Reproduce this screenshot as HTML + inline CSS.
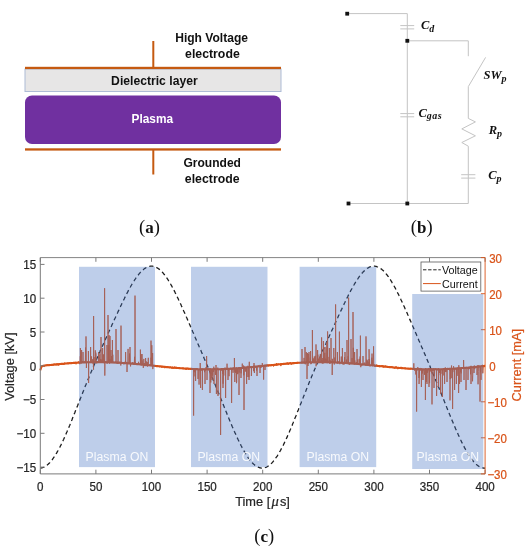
<!DOCTYPE html>
<html lang="en"><head><meta charset="utf-8"><title>DBD plasma figure</title>
<style>html,body{margin:0;padding:0;background:#fff}body{width:532px;height:550px;overflow:hidden}</style></head>
<body>
<svg width="532" height="550" viewBox="0 0 532 550" style="display:block">
<rect width="532" height="550" fill="#fff"/>
<g id="panel-a" font-family="'Liberation Sans', sans-serif" font-weight="bold">
<rect x="25" y="69" width="256" height="22.5" fill="#e7e6e6" stroke="#aebcd6" stroke-width="1"/>
<rect x="25" y="66.8" width="256" height="2.3" fill="#c55a11"/>
<rect x="25" y="95.5" width="256" height="48.5" rx="7" ry="7" fill="#7030a0"/>
<rect x="25" y="148.3" width="256" height="2.3" fill="#c55a11"/>
<rect x="152.3" y="41" width="2" height="27" fill="#c55a11"/>
<rect x="152.3" y="149" width="2" height="25.5" fill="#c55a11"/>
<text x="211.6" y="41.5" font-size="12.6" fill="#111" text-anchor="middle" textLength="72.8" lengthAdjust="spacingAndGlyphs">High Voltage</text>
<text x="212.4" y="58.1" font-size="12.6" fill="#111" text-anchor="middle" textLength="54.7" lengthAdjust="spacingAndGlyphs">electrode</text>
<text x="154.4" y="85.2" font-size="12.6" fill="#111" text-anchor="middle" textLength="86.6" lengthAdjust="spacingAndGlyphs">Dielectric layer</text>
<text x="152.3" y="122.7" font-size="12.6" fill="#fff" text-anchor="middle" textLength="41.5" lengthAdjust="spacingAndGlyphs">Plasma</text>
<text x="212.2" y="166.5" font-size="12.6" fill="#111" text-anchor="middle" textLength="57.5" lengthAdjust="spacingAndGlyphs">Grounded</text>
<text x="212.2" y="183.4" font-size="12.6" fill="#111" text-anchor="middle" textLength="54.7" lengthAdjust="spacingAndGlyphs">electrode</text>
</g>
<g font-family="'Liberation Serif', serif" font-size="17" fill="#111" text-anchor="middle">
<text x="149.4" y="232.7"><tspan font-size="18.5">(</tspan><tspan font-weight="bold">a</tspan><tspan font-size="18.5">)</tspan></text>
<text x="421.7" y="232.7"><tspan font-size="18.5">(</tspan><tspan font-weight="bold">b</tspan><tspan font-size="18.5">)</tspan></text>
<text x="264.2" y="542.1"><tspan font-size="18.5">(</tspan><tspan font-weight="bold">c</tspan><tspan font-size="18.5">)</tspan></text>
</g>
<g id="panel-b" fill="none" stroke="#c4c4c4" stroke-width="1">
<path d="M347.5 13.6H407.3V203.5 M348.5 203.5H468.3V146.2L461.8 142.5L475.4 135.8L461.8 128.9L475.4 121.9L468.3 118.4V86.6L485.6 57.4 M468.3 56.2V40.8H407.3"/>
<path d="M400.3 25.6H414.2 M400.3 28.9H414.2 M400.3 113.6H414.2 M400.3 116.8H414.2 M461.2 174.7H475.4 M461.2 178.1H475.4"/>
</g>
<rect x="345.3" y="11.8" width="3.8" height="3.8" fill="#111"/>
<rect x="405.4" y="38.9" width="3.8" height="3.8" fill="#111"/>
<rect x="346.6" y="201.6" width="3.8" height="3.8" fill="#111"/>
<rect x="405.4" y="201.6" width="3.8" height="3.8" fill="#111"/>
<g font-family="'Liberation Serif', serif" font-style="italic" font-weight="bold" font-size="12.5" fill="#111">
<text x="421" y="29.3">C<tspan font-size="10" dy="2.6" dx="-0.2" letter-spacing="0.5">d</tspan></text>
<text x="418.5" y="116.5">C<tspan font-size="10" dy="2.6" dx="-0.2" letter-spacing="0.5">gas</tspan></text>
<text x="483.6" y="78.9">SW<tspan font-size="10" dy="2.6" dx="-0.2" letter-spacing="0.5">p</tspan></text>
<text x="488.8" y="134.2">R<tspan font-size="10" dy="2.6" dx="-0.2" letter-spacing="0.5">p</tspan></text>
<text x="488.3" y="179">C<tspan font-size="10" dy="2.6" dx="-0.2" letter-spacing="0.5">p</tspan></text>
</g>
<g id="panel-c">
<path d="M40.3 468.1 L40.9 468.0 L41.4 467.9 L42.0 467.8 L42.5 467.7 L43.1 467.5 L43.6 467.3 L44.2 467.0 L44.7 466.7 L45.3 466.4 L45.9 466.0 L46.4 465.7 L47.0 465.2 L47.5 464.8 L48.1 464.3 L48.6 463.8 L49.2 463.2 L49.8 462.6 L50.3 462.0 L50.9 461.4 L51.4 460.7 L52.0 460.0 L52.5 459.3 L53.1 458.5 L53.6 457.7 L54.2 456.9 L54.8 456.1 L55.3 455.2 L55.9 454.3 L56.4 453.4 L57.0 452.4 L57.5 451.4 L58.1 450.5 L58.6 449.4 L59.2 448.4 L59.8 447.3 L60.3 446.2 L60.9 445.1 L61.4 444.0 L62.0 442.9 L62.5 441.7 L63.1 440.5 L63.7 439.3 L64.2 438.1 L64.8 436.9 L65.3 435.6 L65.9 434.3 L66.4 433.1 L67.0 431.8 L67.5 430.5 L68.1 429.2 L68.7 427.8 L69.2 426.5 L69.8 425.2 L70.3 423.8 L70.9 422.4 L71.4 421.1 L72.0 419.7 L72.5 418.3 L73.1 416.9 L73.7 415.5 L74.2 414.1 L74.8 412.7 L75.3 411.3 L75.9 409.9 L76.4 408.5 L77.0 407.1 L77.6 405.7 L78.1 404.3 L78.7 402.9 L79.2 401.5 L79.8 400.1 L80.3 398.7 L80.9 397.3 L81.4 395.9 L82.0 394.5 L82.6 393.1 L83.1 391.7 L83.7 390.3 L84.2 388.9 L84.8 387.5 L85.3 386.1 L85.9 384.7 L86.4 383.4 L87.0 382.0 L87.6 380.6 L88.1 379.3 L88.7 377.9 L89.2 376.6 L89.8 375.2 L90.3 373.9 L90.9 372.6 L91.5 371.2 L92.0 369.9 L92.6 368.6 L93.1 367.3 L93.7 366.0 L94.2 364.7 L94.8 363.4 L95.3 362.1 L95.9 360.8 L96.5 359.5 L97.0 358.2 L97.6 357.0 L98.1 355.7 L98.7 354.4 L99.2 353.2 L99.8 351.9 L100.3 350.6 L100.9 349.4 L101.5 348.1 L102.0 346.9 L102.6 345.7 L103.1 344.4 L103.7 343.2 L104.2 341.9 L104.8 340.7 L105.4 339.5 L105.9 338.3 L106.5 337.0 L107.0 335.8 L107.6 334.6 L108.1 333.3 L108.7 332.1 L109.2 330.9 L109.8 329.7 L110.4 328.5 L110.9 327.2 L111.5 326.0 L112.0 324.8 L112.6 323.6 L113.1 322.4 L113.7 321.2 L114.2 320.0 L114.8 318.8 L115.4 317.6 L115.9 316.3 L116.5 315.1 L117.0 313.9 L117.6 312.8 L118.1 311.6 L118.7 310.4 L119.3 309.2 L119.8 308.0 L120.4 306.8 L120.9 305.6 L121.5 304.5 L122.0 303.3 L122.6 302.2 L123.1 301.0 L123.7 299.9 L124.3 298.7 L124.8 297.6 L125.4 296.5 L125.9 295.4 L126.5 294.3 L127.0 293.2 L127.6 292.1 L128.1 291.1 L128.7 290.0 L129.3 289.0 L129.8 288.0 L130.4 287.0 L130.9 286.0 L131.5 285.0 L132.0 284.1 L132.6 283.2 L133.2 282.2 L133.7 281.4 L134.3 280.5 L134.8 279.6 L135.4 278.8 L135.9 278.0 L136.5 277.2 L137.0 276.4 L137.6 275.7 L138.2 275.0 L138.7 274.3 L139.3 273.6 L139.8 273.0 L140.4 272.4 L140.9 271.8 L141.5 271.2 L142.0 270.7 L142.6 270.2 L143.2 269.7 L143.7 269.2 L144.3 268.8 L144.8 268.4 L145.4 268.1 L145.9 267.7 L146.5 267.4 L147.1 267.2 L147.6 266.9 L148.2 266.7 L148.7 266.6 L149.3 266.4 L149.8 266.3 L150.4 266.2 L150.9 266.2 L151.5 266.2 L152.1 266.2 L152.6 266.2 L153.2 266.3 L153.7 266.4 L154.3 266.6 L154.8 266.8 L155.4 267.0 L155.9 267.2 L156.5 267.5 L157.1 267.8 L157.6 268.1 L158.2 268.5 L158.7 268.9 L159.3 269.3 L159.8 269.8 L160.4 270.3 L161.0 270.8 L161.5 271.3 L162.1 271.9 L162.6 272.5 L163.2 273.2 L163.7 273.8 L164.3 274.5 L164.8 275.2 L165.4 276.0 L166.0 276.7 L166.5 277.5 L167.1 278.3 L167.6 279.2 L168.2 280.0 L168.7 280.9 L169.3 281.8 L169.8 282.8 L170.4 283.7 L171.0 284.7 L171.5 285.7 L172.1 286.7 L172.6 287.7 L173.2 288.7 L173.7 289.8 L174.3 290.9 L174.9 292.0 L175.4 293.1 L176.0 294.2 L176.5 295.3 L177.1 296.5 L177.6 297.6 L178.2 298.8 L178.7 300.0 L179.3 301.2 L179.9 302.4 L180.4 303.6 L181.0 304.8 L181.5 306.0 L182.1 307.2 L182.6 308.5 L183.2 309.7 L183.7 311.0 L184.3 312.2 L184.9 313.5 L185.4 314.8 L186.0 316.0 L186.5 317.3 L187.1 318.6 L187.6 319.9 L188.2 321.1 L188.8 322.4 L189.3 323.7 L189.9 325.0 L190.4 326.3 L191.0 327.6 L191.5 328.9 L192.1 330.1 L192.6 331.4 L193.2 332.7 L193.8 334.0 L194.3 335.3 L194.9 336.6 L195.4 337.9 L196.0 339.2 L196.5 340.5 L197.1 341.8 L197.6 343.1 L198.2 344.4 L198.8 345.7 L199.3 347.0 L199.9 348.3 L200.4 349.5 L201.0 350.8 L201.5 352.1 L202.1 353.4 L202.7 354.7 L203.2 356.0 L203.8 357.4 L204.3 358.7 L204.9 360.0 L205.4 361.3 L206.0 362.6 L206.5 363.9 L207.1 365.2 L207.7 366.5 L208.2 367.9 L208.8 369.2 L209.3 370.5 L209.9 371.8 L210.4 373.2 L211.0 374.5 L211.5 375.9 L212.1 377.2 L212.7 378.5 L213.2 379.9 L213.8 381.2 L214.3 382.6 L214.9 384.0 L215.4 385.3 L216.0 386.7 L216.6 388.0 L217.1 389.4 L217.7 390.8 L218.2 392.2 L218.8 393.5 L219.3 394.9 L219.9 396.3 L220.4 397.7 L221.0 399.0 L221.6 400.4 L222.1 401.8 L222.7 403.2 L223.2 404.6 L223.8 405.9 L224.3 407.3 L224.9 408.7 L225.4 410.1 L226.0 411.4 L226.6 412.8 L227.1 414.2 L227.7 415.5 L228.2 416.9 L228.8 418.2 L229.3 419.6 L229.9 420.9 L230.5 422.3 L231.0 423.6 L231.6 424.9 L232.1 426.2 L232.7 427.5 L233.2 428.8 L233.8 430.1 L234.3 431.3 L234.9 432.6 L235.5 433.8 L236.0 435.0 L236.6 436.3 L237.1 437.5 L237.7 438.7 L238.2 439.8 L238.8 441.0 L239.3 442.1 L239.9 443.3 L240.5 444.4 L241.0 445.5 L241.6 446.5 L242.1 447.6 L242.7 448.6 L243.2 449.7 L243.8 450.6 L244.4 451.6 L244.9 452.6 L245.5 453.5 L246.0 454.4 L246.6 455.3 L247.1 456.1 L247.7 457.0 L248.2 457.8 L248.8 458.5 L249.4 459.3 L249.9 460.0 L250.5 460.7 L251.0 461.4 L251.6 462.0 L252.1 462.6 L252.7 463.2 L253.2 463.7 L253.8 464.3 L254.4 464.7 L254.9 465.2 L255.5 465.6 L256.0 466.0 L256.6 466.4 L257.1 466.7 L257.7 467.0 L258.3 467.2 L258.8 467.5 L259.4 467.6 L259.9 467.8 L260.5 467.9 L261.0 468.0 L261.6 468.1 L262.1 468.1 L262.7 468.1 L263.3 468.0 L263.8 467.9 L264.4 467.8 L264.9 467.7 L265.5 467.5 L266.0 467.3 L266.6 467.0 L267.1 466.7 L267.7 466.4 L268.3 466.0 L268.8 465.7 L269.4 465.2 L269.9 464.8 L270.5 464.3 L271.0 463.8 L271.6 463.2 L272.2 462.6 L272.7 462.0 L273.3 461.4 L273.8 460.7 L274.4 460.0 L274.9 459.3 L275.5 458.5 L276.0 457.7 L276.6 456.9 L277.2 456.1 L277.7 455.2 L278.3 454.3 L278.8 453.4 L279.4 452.4 L279.9 451.4 L280.5 450.5 L281.0 449.4 L281.6 448.4 L282.2 447.3 L282.7 446.2 L283.3 445.1 L283.8 444.0 L284.4 442.9 L284.9 441.7 L285.5 440.5 L286.1 439.3 L286.6 438.1 L287.2 436.9 L287.7 435.6 L288.3 434.3 L288.8 433.1 L289.4 431.8 L289.9 430.5 L290.5 429.2 L291.1 427.8 L291.6 426.5 L292.2 425.2 L292.7 423.8 L293.3 422.4 L293.8 421.1 L294.4 419.7 L294.9 418.3 L295.5 416.9 L296.1 415.5 L296.6 414.1 L297.2 412.7 L297.7 411.3 L298.3 409.9 L298.8 408.5 L299.4 407.1 L300.0 405.7 L300.5 404.3 L301.1 402.9 L301.6 401.5 L302.2 400.1 L302.7 398.7 L303.3 397.3 L303.8 395.9 L304.4 394.5 L305.0 393.1 L305.5 391.7 L306.1 390.3 L306.6 388.9 L307.2 387.5 L307.7 386.1 L308.3 384.7 L308.8 383.4 L309.4 382.0 L310.0 380.6 L310.5 379.3 L311.1 377.9 L311.6 376.6 L312.2 375.2 L312.7 373.9 L313.3 372.6 L313.9 371.2 L314.4 369.9 L315.0 368.6 L315.5 367.3 L316.1 366.0 L316.6 364.7 L317.2 363.4 L317.7 362.1 L318.3 360.8 L318.9 359.5 L319.4 358.2 L320.0 357.0 L320.5 355.7 L321.1 354.4 L321.6 353.2 L322.2 351.9 L322.7 350.6 L323.3 349.4 L323.9 348.1 L324.4 346.9 L325.0 345.7 L325.5 344.4 L326.1 343.2 L326.6 341.9 L327.2 340.7 L327.8 339.5 L328.3 338.3 L328.9 337.0 L329.4 335.8 L330.0 334.6 L330.5 333.3 L331.1 332.1 L331.6 330.9 L332.2 329.7 L332.8 328.5 L333.3 327.2 L333.9 326.0 L334.4 324.8 L335.0 323.6 L335.5 322.4 L336.1 321.2 L336.6 320.0 L337.2 318.8 L337.8 317.6 L338.3 316.3 L338.9 315.1 L339.4 313.9 L340.0 312.8 L340.5 311.6 L341.1 310.4 L341.7 309.2 L342.2 308.0 L342.8 306.8 L343.3 305.6 L343.9 304.5 L344.4 303.3 L345.0 302.2 L345.5 301.0 L346.1 299.9 L346.7 298.7 L347.2 297.6 L347.8 296.5 L348.3 295.4 L348.9 294.3 L349.4 293.2 L350.0 292.1 L350.5 291.1 L351.1 290.0 L351.7 289.0 L352.2 288.0 L352.8 287.0 L353.3 286.0 L353.9 285.0 L354.4 284.1 L355.0 283.2 L355.6 282.2 L356.1 281.4 L356.7 280.5 L357.2 279.6 L357.8 278.8 L358.3 278.0 L358.9 277.2 L359.4 276.4 L360.0 275.7 L360.6 275.0 L361.1 274.3 L361.7 273.6 L362.2 273.0 L362.8 272.4 L363.3 271.8 L363.9 271.2 L364.4 270.7 L365.0 270.2 L365.6 269.7 L366.1 269.2 L366.7 268.8 L367.2 268.4 L367.8 268.1 L368.3 267.7 L368.9 267.4 L369.5 267.2 L370.0 266.9 L370.6 266.7 L371.1 266.6 L371.7 266.4 L372.2 266.3 L372.8 266.2 L373.3 266.2 L373.9 266.2 L374.5 266.2 L375.0 266.2 L375.6 266.3 L376.1 266.4 L376.7 266.6 L377.2 266.8 L377.8 267.0 L378.3 267.2 L378.9 267.5 L379.5 267.8 L380.0 268.1 L380.6 268.5 L381.1 268.9 L381.7 269.3 L382.2 269.8 L382.8 270.3 L383.4 270.8 L383.9 271.3 L384.5 271.9 L385.0 272.5 L385.6 273.2 L386.1 273.8 L386.7 274.5 L387.2 275.2 L387.8 276.0 L388.4 276.7 L388.9 277.5 L389.5 278.3 L390.0 279.2 L390.6 280.0 L391.1 280.9 L391.7 281.8 L392.2 282.8 L392.8 283.7 L393.4 284.7 L393.9 285.7 L394.5 286.7 L395.0 287.7 L395.6 288.7 L396.1 289.8 L396.7 290.9 L397.3 292.0 L397.8 293.1 L398.4 294.2 L398.9 295.3 L399.5 296.5 L400.0 297.6 L400.6 298.8 L401.1 300.0 L401.7 301.2 L402.3 302.4 L402.8 303.6 L403.4 304.8 L403.9 306.0 L404.5 307.2 L405.0 308.5 L405.6 309.7 L406.1 311.0 L406.7 312.2 L407.3 313.5 L407.8 314.8 L408.4 316.0 L408.9 317.3 L409.5 318.6 L410.0 319.9 L410.6 321.1 L411.2 322.4 L411.7 323.7 L412.3 325.0 L412.8 326.3 L413.4 327.6 L413.9 328.9 L414.5 330.1 L415.0 331.4 L415.6 332.7 L416.2 334.0 L416.7 335.3 L417.3 336.6 L417.8 337.9 L418.4 339.2 L418.9 340.5 L419.5 341.8 L420.0 343.1 L420.6 344.4 L421.2 345.7 L421.7 347.0 L422.3 348.3 L422.8 349.5 L423.4 350.8 L423.9 352.1 L424.5 353.4 L425.1 354.7 L425.6 356.0 L426.2 357.4 L426.7 358.7 L427.3 360.0 L427.8 361.3 L428.4 362.6 L428.9 363.9 L429.5 365.2 L430.1 366.5 L430.6 367.9 L431.2 369.2 L431.7 370.5 L432.3 371.8 L432.8 373.2 L433.4 374.5 L433.9 375.9 L434.5 377.2 L435.1 378.5 L435.6 379.9 L436.2 381.2 L436.7 382.6 L437.3 384.0 L437.8 385.3 L438.4 386.7 L439.0 388.0 L439.5 389.4 L440.1 390.8 L440.6 392.2 L441.2 393.5 L441.7 394.9 L442.3 396.3 L442.8 397.7 L443.4 399.0 L444.0 400.4 L444.5 401.8 L445.1 403.2 L445.6 404.6 L446.2 405.9 L446.7 407.3 L447.3 408.7 L447.8 410.1 L448.4 411.4 L449.0 412.8 L449.5 414.2 L450.1 415.5 L450.6 416.9 L451.2 418.2 L451.7 419.6 L452.3 420.9 L452.9 422.3 L453.4 423.6 L454.0 424.9 L454.5 426.2 L455.1 427.5 L455.6 428.8 L456.2 430.1 L456.7 431.3 L457.3 432.6 L457.9 433.8 L458.4 435.0 L459.0 436.3 L459.5 437.5 L460.1 438.7 L460.6 439.8 L461.2 441.0 L461.7 442.1 L462.3 443.3 L462.9 444.4 L463.4 445.5 L464.0 446.5 L464.5 447.6 L465.1 448.6 L465.6 449.7 L466.2 450.6 L466.8 451.6 L467.3 452.6 L467.9 453.5 L468.4 454.4 L469.0 455.3 L469.5 456.1 L470.1 457.0 L470.6 457.8 L471.2 458.5 L471.8 459.3 L472.3 460.0 L472.9 460.7 L473.4 461.4 L474.0 462.0 L474.5 462.6 L475.1 463.2 L475.6 463.7 L476.2 464.3 L476.8 464.7 L477.3 465.2 L477.9 465.6 L478.4 466.0 L479.0 466.4 L479.5 466.7 L480.1 467.0 L480.7 467.2 L481.2 467.5 L481.8 467.6 L482.3 467.8 L482.9 467.9 L483.4 468.0 L484.0 468.1 L484.5 468.1 L485.1 468.1" fill="none" stroke="#1c1c1c" stroke-width="1.3" stroke-dasharray="4.2 3.1"/>
<path d="M40.3 370.3 L41.4 366.9 L42.5 366.0 L43.6 365.7 L44.7 365.5 L45.9 365.4 L47.0 365.3 L48.1 365.2 L49.2 365.1 L50.3 365.0 L51.4 364.9 L52.5 364.7 L53.6 364.6 L54.8 364.5 L55.9 364.4 L57.0 364.3 L58.1 364.2 L59.2 364.1 L60.3 364.0 L61.4 363.9 L62.5 363.8 L63.7 363.7 L64.8 363.6 L65.9 363.5 L67.0 363.5 L68.1 363.4 L69.2 363.3 L70.3 363.2 L71.4 363.1 L72.5 363.0 L73.7 363.0 L74.8 362.9 L75.9 362.8 L77.0 362.8 L78.1 362.7 L79.2 362.6 L80.3 362.6 L81.4 362.5 L82.6 362.5 L83.7 362.4 L84.8 362.4 L85.9 362.4 L87.0 362.3 L88.1 362.3 L89.2 362.3 L90.3 362.2 L91.5 362.2 L92.6 362.2 L93.7 362.2 L94.8 362.2 L95.9 362.2 L97.0 362.1 L98.1 362.1 L99.2 362.1 L100.3 362.2 L101.5 362.2 L102.6 362.2 L103.7 362.2 L104.8 362.2 L105.9 362.2 L107.0 362.3 L108.1 362.3 L109.2 362.3 L110.4 362.4 L111.5 362.4 L112.6 362.4 L113.7 362.5 L114.8 362.5 L115.9 362.6 L117.0 362.6 L118.1 362.7 L119.3 362.8 L120.4 362.8 L121.5 362.9 L122.6 363.0 L123.7 363.0 L124.8 363.1 L125.9 363.2 L127.0 363.3 L128.1 363.4 L129.3 363.5 L130.4 363.5 L131.5 363.6 L132.6 363.7 L133.7 363.8 L134.8 363.9 L135.9 364.0 L137.0 364.1 L138.2 364.2 L139.3 364.3 L140.4 364.4 L141.5 364.5 L142.6 364.6 L143.7 364.7 L144.8 364.9 L145.9 365.0 L147.1 365.1 L148.2 365.2 L149.3 365.3 L150.4 365.4 L151.5 365.5 L152.6 365.6 L153.7 365.8 L154.8 365.9 L155.9 366.0 L157.1 366.1 L158.2 366.2 L159.3 366.3 L160.4 366.4 L161.5 366.5 L162.6 366.6 L163.7 366.8 L164.8 366.9 L166.0 367.0 L167.1 367.1 L168.2 367.2 L169.3 367.3 L170.4 367.4 L171.5 367.5 L172.6 367.6 L173.7 367.7 L174.9 367.8 L176.0 367.9 L177.1 368.0 L178.2 368.0 L179.3 368.1 L180.4 368.2 L181.5 368.3 L182.6 368.4 L183.7 368.5 L184.9 368.5 L186.0 368.6 L187.1 368.7 L188.2 368.7 L189.3 368.8 L190.4 368.9 L191.5 368.9 L192.6 369.0 L193.8 369.0 L194.9 369.1 L196.0 369.1 L197.1 369.1 L198.2 369.2 L199.3 369.2 L200.4 369.2 L201.5 369.3 L202.7 369.3 L203.8 369.3 L204.9 369.3 L206.0 369.3 L207.1 369.3 L208.2 369.4 L209.3 369.4 L210.4 369.4 L211.5 369.3 L212.7 369.3 L213.8 369.3 L214.9 369.3 L216.0 369.3 L217.1 369.3 L218.2 369.2 L219.3 369.2 L220.4 369.2 L221.6 369.1 L222.7 369.1 L223.8 369.1 L224.9 369.0 L226.0 369.0 L227.1 368.9 L228.2 368.9 L229.3 368.8 L230.5 368.7 L231.6 368.7 L232.7 368.6 L233.8 368.5 L234.9 368.5 L236.0 368.4 L237.1 368.3 L238.2 368.2 L239.3 368.1 L240.5 368.0 L241.6 368.0 L242.7 367.9 L243.8 367.8 L244.9 367.7 L246.0 367.6 L247.1 367.5 L248.2 367.4 L249.4 367.3 L250.5 367.2 L251.6 367.1 L252.7 367.0 L253.8 366.9 L254.9 366.8 L256.0 366.6 L257.1 366.5 L258.3 366.4 L259.4 366.3 L260.5 366.2 L261.6 366.1 L262.7 366.0 L263.8 365.9 L264.9 365.8 L266.0 365.6 L267.1 365.5 L268.3 365.4 L269.4 365.3 L270.5 365.2 L271.6 365.1 L272.7 365.0 L273.8 364.9 L274.9 364.7 L276.0 364.6 L277.2 364.5 L278.3 364.4 L279.4 364.3 L280.5 364.2 L281.6 364.1 L282.7 364.0 L283.8 363.9 L284.9 363.8 L286.1 363.7 L287.2 363.6 L288.3 363.5 L289.4 363.5 L290.5 363.4 L291.6 363.3 L292.7 363.2 L293.8 363.1 L294.9 363.0 L296.1 363.0 L297.2 362.9 L298.3 362.8 L299.4 362.8 L300.5 362.7 L301.6 362.6 L302.7 362.6 L303.8 362.5 L305.0 362.5 L306.1 362.4 L307.2 362.4 L308.3 362.4 L309.4 362.3 L310.5 362.3 L311.6 362.3 L312.7 362.2 L313.9 362.2 L315.0 362.2 L316.1 362.2 L317.2 362.2 L318.3 362.2 L319.4 362.1 L320.5 362.1 L321.6 362.1 L322.7 362.2 L323.9 362.2 L325.0 362.2 L326.1 362.2 L327.2 362.2 L328.3 362.2 L329.4 362.3 L330.5 362.3 L331.6 362.3 L332.8 362.4 L333.9 362.4 L335.0 362.4 L336.1 362.5 L337.2 362.5 L338.3 362.6 L339.4 362.6 L340.5 362.7 L341.7 362.8 L342.8 362.8 L343.9 362.9 L345.0 363.0 L346.1 363.0 L347.2 363.1 L348.3 363.2 L349.4 363.3 L350.5 363.4 L351.7 363.5 L352.8 363.5 L353.9 363.6 L355.0 363.7 L356.1 363.8 L357.2 363.9 L358.3 364.0 L359.4 364.1 L360.6 364.2 L361.7 364.3 L362.8 364.4 L363.9 364.5 L365.0 364.6 L366.1 364.7 L367.2 364.9 L368.3 365.0 L369.5 365.1 L370.6 365.2 L371.7 365.3 L372.8 365.4 L373.9 365.5 L375.0 365.6 L376.1 365.8 L377.2 365.9 L378.3 366.0 L379.5 366.1 L380.6 366.2 L381.7 366.3 L382.8 366.4 L383.9 366.5 L385.0 366.6 L386.1 366.8 L387.2 366.9 L388.4 367.0 L389.5 367.1 L390.6 367.2 L391.7 367.3 L392.8 367.4 L393.9 367.5 L395.0 367.6 L396.1 367.7 L397.3 367.8 L398.4 367.9 L399.5 368.0 L400.6 368.0 L401.7 368.1 L402.8 368.2 L403.9 368.3 L405.0 368.4 L406.1 368.5 L407.3 368.5 L408.4 368.6 L409.5 368.7 L410.6 368.7 L411.7 368.8 L412.8 368.9 L413.9 368.9 L415.0 369.0 L416.2 369.0 L417.3 369.1 L418.4 369.1 L419.5 369.1 L420.6 369.2 L421.7 369.2 L422.8 369.2 L423.9 369.3 L425.1 369.3 L426.2 369.3 L427.3 369.3 L428.4 369.3 L429.5 369.3 L430.6 369.4 L431.7 369.4 L432.8 369.4 L433.9 369.3 L435.1 369.3 L436.2 369.3 L437.3 369.3 L438.4 369.3 L439.5 369.3 L440.6 369.2 L441.7 369.2 L442.8 369.2 L444.0 369.1 L445.1 369.1 L446.2 369.1 L447.3 369.0 L448.4 369.0 L449.5 368.9 L450.6 368.9 L451.7 368.8 L452.9 368.7 L454.0 368.7 L455.1 368.6 L456.2 368.5 L457.3 368.5 L458.4 368.4 L459.5 368.3 L460.6 368.2 L461.7 368.1 L462.9 368.0 L464.0 368.0 L465.1 367.9 L466.2 367.8 L467.3 367.7 L468.4 367.6 L469.5 367.5 L470.6 367.4 L471.8 367.3 L472.9 367.2 L474.0 367.1 L475.1 367.0 L476.2 366.9 L477.3 366.8 L478.4 366.6 L479.5 366.5 L480.7 366.4 L481.8 366.3 L482.9 366.2 L484.0 366.1 L485.1 366.0" fill="none" stroke="#D95319" stroke-width="2.1" stroke-linejoin="round"/>
<path d="M40.30 370.4 L40.55 368.8 L40.80 368.3 L41.05 367.7 L41.30 367.6 L41.55 366.8 L41.80 365.8 L42.05 366.0 L42.30 365.5 L42.55 365.8 L42.80 365.7 L43.05 365.7 L43.30 366.7 L43.55 365.2 L43.80 365.4 L44.05 365.3 L44.30 366.6 L44.55 366.6 L44.80 366.0 L45.05 365.8 L45.30 365.3 L45.55 365.5 L45.80 365.1 L46.05 365.8 L46.30 365.2 L46.55 365.1 L46.80 365.7 L47.05 364.3 L47.30 364.9 L47.55 364.5 L47.80 365.6 L48.05 365.6 L48.30 365.4 L48.55 365.2 L48.80 364.7 L49.05 364.9 L49.30 365.3 L49.55 365.6 L49.80 365.3 L50.05 364.3 L50.30 365.4 L50.55 364.8 L50.80 364.7 L51.05 365.7 L51.30 364.8 L51.55 364.1 L51.80 366.0 L52.05 365.0 L52.30 364.8 L52.55 365.2 L52.80 364.4 L53.05 364.7 L53.30 365.5 L53.55 364.2 L53.80 364.2 L54.05 364.1 L54.30 363.7 L54.55 364.3 L54.80 364.5 L55.05 365.3 L55.30 364.1 L55.55 364.8 L55.80 364.7 L56.05 365.1 L56.30 364.9 L56.55 364.7 L56.80 363.6 L57.05 365.5 L57.30 365.1 L57.55 364.1 L57.80 363.4 L58.05 363.9 L58.30 365.3 L58.55 365.6 L58.80 363.9 L59.05 364.6 L59.30 364.8 L59.55 363.5 L59.80 363.4 L60.05 363.9 L60.30 363.9 L60.55 363.7 L60.80 363.1 L61.05 363.6 L61.30 363.6 L61.55 363.6 L61.80 364.8 L62.05 363.1 L62.30 363.3 L62.55 363.5 L62.80 364.9 L63.05 364.1 L63.30 363.3 L63.55 364.8 L63.80 363.8 L64.05 363.1 L64.30 364.4 L64.55 362.7 L64.80 363.3 L65.05 363.7 L65.30 363.4 L65.55 363.2 L65.80 363.5 L66.05 362.9 L66.30 363.9 L66.55 363.7 L66.80 362.9 L67.05 363.4 L67.30 363.9 L67.55 362.9 L67.80 362.5 L68.05 363.6 L68.30 364.1 L68.55 363.4 L68.80 363.4 L69.05 363.5 L69.30 362.5 L69.55 363.8 L69.80 362.5 L70.05 364.0 L70.30 363.7 L70.55 362.8 L70.80 362.5 L71.05 362.7 L71.30 362.9 L71.55 363.0 L71.80 363.0 L72.05 362.7 L72.30 363.2 L72.55 362.9 L72.80 362.7 L73.05 363.0 L73.30 362.6 L73.55 362.7 L73.80 361.8 L74.05 362.8 L74.30 363.2 L74.55 363.1 L74.80 362.9 L75.05 362.4 L75.30 363.1 L75.55 362.6 L75.80 361.8 L76.05 364.3 L76.30 363.5 L76.55 362.7 L76.80 362.5 L77.05 362.6 L77.30 363.0 L77.55 362.4 L77.80 362.6 L78.05 363.0 L78.30 361.3 L78.55 362.5 L78.80 363.0 L79.05 362.7 L79.30 362.8 L79.55 362.7 L79.80 364.2 L80.05 362.9 L80.30 356.2 L80.40 362.6 L80.40 348.0 L80.50 362.6 L80.55 362.0 L80.80 362.8 L81.05 362.2 L81.30 362.2 L81.55 363.4 L81.60 362.5 L81.60 350.0 L81.70 362.5 L81.80 362.6 L82.05 362.1 L82.30 361.1 L82.55 362.6 L82.80 362.2 L83.00 362.5 L83.00 352.0 L83.10 362.5 L83.05 361.7 L83.30 362.4 L83.55 362.7 L83.80 362.8 L84.05 362.4 L84.30 362.9 L84.55 361.5 L84.80 361.7 L85.05 361.4 L85.30 362.7 L85.55 347.5 L85.80 362.8 L86.00 362.4 L86.00 336.4 L86.10 362.4 L86.05 362.9 L86.30 362.2 L86.40 362.3 L86.40 368.0 L86.50 362.3 L86.55 361.9 L86.80 362.6 L87.05 362.2 L87.30 361.8 L87.55 362.6 L87.80 361.7 L88.05 362.2 L88.30 363.2 L88.40 362.3 L88.40 351.0 L88.50 362.3 L88.55 362.1 L88.60 362.3 L88.60 383.0 L88.70 362.3 L88.80 362.2 L89.05 362.5 L89.30 363.0 L89.55 362.3 L89.80 362.9 L90.05 362.3 L90.30 361.4 L90.55 362.5 L90.60 362.2 L90.60 347.0 L90.70 362.2 L90.80 360.6 L91.05 363.1 L91.30 361.4 L91.55 356.4 L91.80 362.4 L92.05 362.5 L92.30 362.7 L92.55 359.3 L92.80 361.0 L93.05 363.7 L93.30 362.3 L93.55 369.7 L93.60 362.2 L93.60 316.0 L93.70 362.2 L93.80 360.5 L94.05 357.1 L94.30 362.2 L94.55 361.9 L94.80 361.4 L95.05 360.9 L95.30 350.3 L95.55 362.7 L95.60 362.2 L95.60 354.0 L95.70 362.2 L95.80 352.6 L96.05 361.6 L96.30 363.4 L96.55 362.6 L96.80 360.9 L97.05 361.9 L97.30 362.1 L97.55 363.1 L97.80 361.2 L98.05 362.1 L98.30 361.3 L98.55 361.5 L98.60 362.1 L98.60 352.0 L98.70 362.1 L98.80 363.0 L99.05 362.2 L99.30 362.8 L99.55 356.7 L99.80 354.2 L100.05 361.8 L100.30 362.2 L100.55 359.2 L100.80 362.3 L101.00 362.2 L101.00 337.0 L101.10 362.2 L101.05 360.7 L101.30 360.3 L101.55 361.7 L101.80 360.6 L102.05 359.3 L102.30 362.1 L102.55 362.1 L102.60 362.2 L102.60 348.0 L102.70 362.2 L102.80 362.2 L103.05 363.0 L103.30 361.9 L103.55 354.4 L103.80 361.6 L104.05 359.5 L104.30 363.3 L104.55 362.2 L104.60 362.2 L104.60 288.2 L104.70 362.2 L104.80 362.2 L104.80 375.6 L104.90 362.2 L104.80 362.8 L105.05 363.0 L105.30 361.8 L105.55 362.9 L105.80 361.2 L106.05 362.2 L106.30 361.9 L106.55 361.9 L106.80 362.4 L107.00 362.3 L107.00 345.0 L107.10 362.3 L107.05 363.8 L107.30 362.5 L107.55 363.1 L107.80 362.3 L108.00 362.3 L108.00 315.0 L108.10 362.3 L108.05 361.6 L108.30 362.6 L108.55 363.1 L108.80 344.9 L109.00 362.3 L109.00 335.0 L109.10 362.3 L109.05 362.6 L109.30 361.7 L109.55 363.7 L109.80 358.9 L110.00 362.3 L110.00 336.0 L110.10 362.3 L110.05 361.6 L110.30 362.1 L110.55 363.0 L110.80 359.6 L111.00 362.4 L111.00 350.0 L111.10 362.4 L111.05 362.4 L111.30 362.1 L111.55 356.0 L111.80 362.3 L112.05 362.7 L112.30 362.8 L112.40 362.4 L112.40 340.0 L112.50 362.4 L112.55 362.0 L112.80 354.7 L113.05 362.3 L113.30 362.5 L113.55 362.0 L113.80 361.7 L114.05 363.2 L114.30 362.5 L114.55 362.7 L114.80 362.6 L115.05 362.4 L115.30 362.8 L115.55 361.7 L115.80 362.4 L116.00 362.6 L116.00 329.0 L116.10 362.6 L116.05 362.8 L116.30 363.0 L116.55 362.6 L116.80 362.5 L117.05 362.4 L117.30 363.8 L117.55 363.2 L117.80 361.7 L118.00 362.7 L118.00 350.0 L118.10 362.7 L118.05 362.3 L118.30 363.5 L118.55 362.7 L118.80 363.2 L119.05 362.4 L119.30 363.1 L119.55 361.8 L119.80 361.8 L120.05 363.3 L120.30 362.4 L120.55 362.3 L120.80 365.5 L121.00 362.9 L121.00 325.6 L121.10 362.9 L121.05 363.5 L121.30 361.9 L121.55 363.3 L121.80 362.8 L122.05 362.8 L122.30 363.0 L122.55 363.0 L122.80 362.5 L123.05 363.4 L123.30 363.1 L123.55 362.9 L123.80 364.4 L124.05 364.2 L124.30 362.8 L124.55 362.1 L124.80 363.5 L125.05 362.1 L125.30 361.4 L125.55 363.4 L125.60 363.2 L125.60 352.0 L125.70 363.2 L125.80 362.9 L126.05 363.3 L126.30 363.0 L126.55 363.2 L126.80 361.9 L127.00 363.3 L127.00 372.0 L127.10 363.3 L127.05 363.3 L127.30 362.5 L127.55 363.2 L127.80 362.9 L128.05 348.9 L128.30 363.2 L128.55 364.0 L128.80 362.4 L129.05 363.5 L129.30 362.9 L129.55 353.5 L129.80 363.5 L130.00 363.5 L130.00 347.0 L130.10 363.5 L130.05 362.6 L130.30 363.9 L130.55 366.4 L130.80 363.3 L131.05 364.0 L131.30 363.1 L131.55 363.8 L131.80 363.2 L132.05 362.7 L132.30 363.9 L132.55 362.3 L132.80 363.6 L133.05 364.2 L133.30 362.6 L133.55 363.5 L133.80 364.7 L134.05 363.8 L134.30 364.3 L134.55 356.8 L134.80 364.1 L135.00 363.9 L135.00 295.6 L135.10 363.9 L135.05 362.0 L135.30 363.9 L135.55 363.6 L135.80 363.3 L136.05 364.1 L136.30 363.5 L136.55 364.3 L136.80 363.8 L137.05 363.9 L137.30 363.7 L137.55 364.6 L137.80 364.8 L138.05 363.7 L138.30 364.3 L138.55 361.8 L138.80 364.4 L139.05 364.6 L139.30 364.1 L139.55 364.2 L139.80 363.9 L140.05 363.6 L140.30 364.7 L140.40 364.4 L140.40 349.6 L140.50 364.4 L140.55 363.7 L140.80 364.7 L141.05 354.2 L141.30 365.5 L141.55 364.0 L141.80 363.8 L142.00 364.6 L142.00 354.0 L142.10 364.6 L142.05 360.3 L142.30 363.6 L142.55 364.1 L142.80 364.1 L143.05 363.7 L143.30 367.9 L143.55 365.3 L143.80 358.9 L144.05 365.5 L144.30 363.1 L144.55 365.7 L144.80 365.1 L145.05 366.2 L145.30 364.9 L145.55 365.1 L145.60 364.9 L145.60 358.0 L145.70 364.9 L145.80 365.3 L146.05 365.3 L146.30 361.4 L146.55 364.8 L146.80 365.0 L147.05 366.1 L147.30 362.2 L147.55 366.5 L147.80 364.3 L148.05 361.7 L148.30 357.8 L148.55 364.2 L148.80 365.1 L149.05 365.6 L149.30 365.6 L149.55 364.5 L149.80 365.0 L150.05 365.7 L150.30 365.3 L150.55 364.1 L150.80 364.7 L151.00 365.5 L151.00 340.6 L151.10 365.5 L151.05 357.7 L151.30 365.0 L151.55 365.1 L151.80 345.2 L152.05 366.2 L152.30 365.5 L152.55 366.1 L152.60 365.6 L152.60 353.0 L152.70 365.6 L152.80 369.1 L153.05 365.6 L153.30 364.9 L153.55 365.7 L153.80 365.3 L154.05 365.1 L154.30 365.6 L154.55 366.0 L154.80 365.7 L155.05 365.1 L155.30 365.9 L155.55 365.9 L155.80 366.1 L156.05 365.8 L156.30 366.3 L156.55 365.7 L156.80 366.7 L157.05 366.5 L157.30 365.9 L157.55 365.4 L157.80 366.5 L158.05 366.1 L158.30 365.8 L158.55 366.4 L158.80 366.1 L159.05 366.1 L159.30 367.1 L159.55 367.2 L159.80 366.2 L160.05 367.0 L160.30 366.4 L160.55 366.4 L160.80 366.9 L161.05 367.1 L161.30 367.0 L161.55 365.9 L161.80 367.8 L162.05 366.1 L162.30 366.7 L162.55 367.1 L162.80 366.5 L163.05 366.8 L163.30 367.3 L163.55 366.9 L163.80 366.7 L164.05 366.6 L164.30 366.8 L164.55 366.9 L164.80 368.2 L165.05 367.3 L165.30 366.7 L165.55 366.6 L165.80 367.5 L166.05 367.4 L166.30 367.7 L166.55 367.8 L166.80 366.8 L167.05 366.6 L167.30 367.2 L167.55 366.9 L167.80 366.4 L168.05 367.8 L168.30 367.2 L168.55 367.3 L168.80 366.7 L169.05 368.1 L169.30 368.2 L169.55 367.1 L169.80 367.7 L170.05 367.2 L170.30 367.0 L170.55 367.1 L170.80 366.9 L171.05 367.3 L171.30 367.5 L171.55 368.4 L171.80 367.0 L172.05 368.3 L172.30 367.6 L172.55 366.8 L172.80 368.5 L173.05 367.2 L173.30 368.1 L173.55 367.7 L173.80 368.6 L174.05 368.9 L174.30 367.5 L174.55 366.6 L174.80 367.3 L175.05 367.8 L175.30 367.7 L175.55 366.9 L175.80 367.0 L176.05 368.2 L176.30 368.4 L176.55 366.9 L176.80 368.1 L177.05 367.6 L177.30 367.3 L177.55 368.4 L177.80 368.3 L178.05 368.8 L178.30 367.4 L178.55 368.2 L178.80 367.6 L179.05 368.9 L179.30 367.7 L179.55 368.6 L179.80 368.3 L180.05 368.9 L180.30 368.4 L180.55 367.9 L180.80 368.4 L181.05 368.4 L181.30 368.0 L181.55 368.5 L181.80 368.0 L182.05 368.3 L182.30 367.9 L182.55 368.6 L182.80 368.3 L183.05 368.3 L183.30 367.6 L183.55 368.2 L183.80 369.1 L184.05 369.1 L184.30 368.5 L184.55 368.7 L184.80 369.0 L185.05 368.8 L185.30 368.1 L185.55 369.5 L185.80 368.4 L186.05 368.7 L186.30 367.8 L186.55 369.6 L186.80 368.4 L187.05 368.8 L187.30 368.6 L187.55 368.4 L187.80 367.6 L188.05 368.5 L188.30 368.4 L188.55 369.5 L188.80 368.4 L189.05 369.5 L189.30 368.9 L189.55 368.5 L189.80 368.0 L190.05 368.3 L190.30 368.7 L190.55 368.4 L190.80 369.0 L191.05 368.8 L191.30 368.9 L191.55 368.4 L191.80 369.0 L192.05 369.5 L192.30 369.1 L192.55 369.0 L192.80 369.5 L193.05 368.2 L193.30 369.8 L193.55 369.3 L193.60 369.0 L193.60 415.6 L193.70 369.0 L193.80 368.3 L194.05 372.0 L194.30 369.7 L194.55 368.2 L194.80 373.6 L195.05 376.4 L195.30 369.4 L195.55 370.0 L195.60 369.1 L195.60 381.0 L195.70 369.1 L195.80 368.5 L196.05 369.3 L196.30 369.7 L196.55 369.1 L196.80 369.1 L197.05 370.1 L197.30 368.7 L197.55 369.9 L197.80 369.4 L198.00 369.2 L198.00 379.0 L198.10 369.2 L198.05 369.3 L198.30 369.5 L198.55 369.6 L198.80 371.2 L199.05 384.6 L199.30 369.2 L199.55 369.5 L199.80 369.0 L200.05 370.1 L200.20 369.2 L200.20 363.0 L200.30 369.2 L200.30 371.3 L200.55 368.7 L200.60 369.2 L200.60 388.0 L200.70 369.2 L200.80 370.1 L201.05 369.3 L201.30 369.3 L201.55 370.5 L201.80 369.1 L202.05 368.4 L202.30 369.6 L202.40 369.3 L202.40 390.0 L202.50 369.3 L202.55 370.0 L202.80 370.2 L203.05 368.8 L203.30 370.1 L203.55 369.1 L203.80 369.9 L204.05 368.7 L204.30 368.8 L204.55 372.2 L204.80 370.2 L205.00 369.3 L205.00 384.0 L205.10 369.3 L205.05 369.6 L205.30 370.5 L205.55 368.6 L205.80 367.6 L206.05 367.2 L206.30 370.1 L206.55 368.9 L206.60 369.3 L206.60 356.0 L206.70 369.3 L206.80 368.7 L207.00 369.3 L207.00 380.0 L207.10 369.3 L207.05 369.6 L207.30 368.7 L207.55 368.6 L207.80 369.1 L208.05 367.9 L208.30 369.8 L208.55 369.3 L208.80 369.1 L209.05 369.7 L209.30 368.4 L209.55 369.3 L209.80 370.1 L210.00 369.4 L210.00 393.0 L210.10 369.4 L210.05 369.0 L210.30 368.3 L210.55 376.7 L210.80 382.5 L211.05 369.4 L211.30 369.1 L211.55 369.2 L211.80 378.1 L212.00 369.3 L212.00 380.0 L212.10 369.3 L212.05 369.9 L212.30 369.9 L212.55 375.5 L212.80 370.3 L213.05 369.5 L213.30 368.2 L213.55 371.9 L213.80 366.7 L214.00 369.3 L214.00 384.0 L214.10 369.3 L214.05 369.3 L214.30 369.9 L214.55 368.4 L214.80 369.4 L215.05 369.4 L215.30 368.6 L215.55 374.9 L215.80 369.7 L216.00 369.3 L216.00 365.0 L216.10 369.3 L216.05 369.7 L216.30 369.2 L216.40 369.3 L216.40 394.0 L216.50 369.3 L216.55 369.7 L216.80 369.6 L217.05 368.2 L217.30 368.4 L217.55 369.4 L217.80 367.6 L218.00 369.3 L218.00 396.0 L218.10 369.3 L218.05 369.7 L218.30 369.7 L218.55 369.1 L218.80 369.8 L219.05 370.1 L219.30 369.5 L219.55 369.9 L219.80 369.3 L220.05 369.5 L220.30 369.5 L220.55 369.6 L220.60 369.2 L220.60 435.0 L220.70 369.2 L220.80 369.4 L221.05 368.6 L221.30 369.0 L221.55 368.9 L221.80 370.7 L222.05 369.4 L222.30 368.5 L222.55 369.2 L222.80 374.0 L223.00 369.1 L223.00 388.0 L223.10 369.1 L223.05 383.7 L223.30 368.2 L223.55 368.5 L223.80 375.5 L224.05 369.4 L224.30 369.1 L224.55 369.3 L224.80 369.0 L225.05 367.5 L225.30 368.6 L225.55 368.7 L225.60 369.0 L225.60 398.0 L225.70 369.0 L225.80 368.5 L226.05 368.8 L226.30 368.8 L226.55 369.5 L226.80 368.6 L227.05 363.7 L227.30 369.2 L227.55 369.9 L227.80 369.3 L228.00 368.9 L228.00 380.0 L228.10 368.9 L228.05 369.2 L228.30 369.8 L228.55 370.9 L228.80 369.5 L229.05 376.2 L229.30 368.4 L229.55 369.9 L229.80 369.3 L230.05 369.9 L230.30 368.4 L230.55 367.8 L230.80 369.1 L231.05 368.6 L231.30 367.8 L231.55 368.1 L231.60 368.7 L231.60 403.0 L231.70 368.7 L231.80 368.1 L232.05 370.0 L232.30 368.2 L232.55 367.8 L232.80 368.5 L233.05 372.8 L233.30 368.5 L233.55 368.8 L233.80 367.4 L234.05 368.6 L234.30 369.7 L234.40 368.5 L234.40 358.0 L234.50 368.5 L234.55 367.9 L234.80 368.5 L234.80 382.0 L234.90 368.5 L234.80 368.5 L235.05 371.9 L235.30 368.0 L235.55 372.8 L235.80 368.6 L236.05 368.2 L236.30 367.5 L236.55 383.2 L236.60 368.3 L236.60 382.0 L236.70 368.3 L236.80 369.2 L237.05 368.3 L237.30 374.1 L237.55 368.9 L237.80 374.1 L238.05 368.2 L238.30 368.4 L238.55 367.5 L238.80 368.9 L239.00 368.2 L239.00 395.0 L239.10 368.2 L239.05 372.6 L239.30 367.4 L239.55 368.0 L239.80 367.0 L240.05 368.5 L240.30 367.1 L240.55 368.5 L240.80 369.9 L241.00 368.0 L241.00 378.0 L241.10 368.0 L241.05 373.3 L241.30 368.3 L241.55 368.1 L241.80 368.1 L242.05 366.8 L242.30 363.6 L242.55 368.0 L242.80 368.3 L243.05 367.8 L243.30 368.0 L243.55 365.5 L243.80 375.3 L244.00 367.8 L244.00 410.0 L244.10 367.8 L244.05 366.2 L244.30 366.6 L244.55 367.7 L244.80 368.4 L245.05 366.9 L245.30 371.6 L245.55 367.4 L245.80 367.4 L246.05 366.8 L246.30 366.7 L246.55 374.4 L246.60 367.5 L246.60 384.0 L246.70 367.5 L246.80 368.1 L247.05 377.0 L247.30 368.6 L247.55 367.3 L247.80 365.8 L248.05 366.9 L248.30 366.7 L248.55 366.7 L248.80 377.0 L249.00 367.3 L249.00 380.0 L249.10 367.3 L249.05 366.7 L249.30 361.8 L249.55 367.3 L249.80 366.7 L250.05 367.0 L250.30 366.4 L250.55 367.1 L250.80 367.1 L251.05 367.8 L251.30 367.2 L251.40 367.1 L251.40 376.0 L251.50 367.1 L251.55 366.8 L251.80 366.6 L252.05 366.4 L252.30 367.5 L252.55 366.6 L252.80 366.9 L253.05 367.5 L253.30 366.5 L253.55 371.2 L253.80 365.6 L254.00 366.9 L254.00 363.0 L254.10 366.9 L254.05 367.2 L254.30 367.0 L254.40 366.8 L254.40 373.0 L254.50 366.8 L254.55 367.5 L254.80 365.8 L255.05 366.9 L255.30 366.6 L255.55 366.8 L255.80 367.9 L256.05 367.0 L256.30 366.2 L256.55 370.6 L256.80 365.9 L257.00 366.6 L257.00 376.0 L257.10 366.6 L257.05 366.7 L257.30 366.3 L257.55 366.3 L257.80 365.9 L258.05 366.1 L258.30 366.1 L258.55 365.5 L258.80 366.5 L259.05 365.9 L259.30 365.8 L259.55 366.3 L259.80 366.6 L260.00 366.3 L260.00 373.0 L260.10 366.3 L260.05 364.9 L260.30 367.9 L260.55 366.6 L260.80 365.9 L261.05 367.7 L261.30 366.6 L261.55 365.4 L261.80 366.1 L262.05 367.0 L262.30 363.1 L262.55 366.1 L262.80 365.2 L263.05 366.1 L263.30 366.4 L263.55 365.5 L263.60 365.9 L263.60 379.6 L263.70 365.9 L263.80 366.4 L264.05 366.0 L264.30 366.2 L264.55 365.7 L264.80 364.7 L265.00 365.8 L265.00 370.0 L265.10 365.8 L265.05 365.1 L265.30 365.5 L265.55 365.1 L265.80 364.8 L266.05 366.1 L266.30 365.8 L266.55 366.1 L266.80 366.4 L267.05 364.4 L267.30 365.8 L267.55 366.1 L267.80 365.0 L268.05 365.1 L268.30 366.0 L268.55 364.9 L268.80 366.4 L269.05 365.9 L269.30 364.7 L269.55 365.4 L269.80 366.0 L270.05 364.9 L270.30 364.7 L270.55 365.2 L270.80 366.2 L271.05 365.3 L271.30 364.9 L271.55 364.6 L271.80 364.0 L272.05 365.2 L272.30 365.3 L272.55 365.0 L272.80 364.3 L273.05 365.5 L273.30 364.2 L273.55 366.5 L273.80 364.4 L274.05 365.2 L274.30 364.5 L274.55 364.4 L274.80 365.4 L275.05 364.8 L275.30 364.6 L275.55 364.3 L275.80 365.2 L276.05 365.2 L276.30 365.7 L276.55 363.1 L276.80 364.7 L277.05 364.7 L277.30 365.4 L277.55 364.0 L277.80 364.8 L278.05 363.6 L278.30 363.9 L278.55 364.4 L278.80 364.0 L279.05 365.0 L279.30 364.5 L279.55 364.6 L279.80 365.0 L280.05 364.2 L280.30 364.3 L280.55 363.4 L280.80 366.1 L281.05 364.6 L281.30 364.7 L281.55 364.4 L281.80 363.9 L282.05 363.8 L282.30 364.0 L282.55 364.3 L282.80 363.7 L283.05 363.8 L283.30 365.0 L283.55 364.1 L283.80 364.7 L284.05 364.6 L284.30 363.8 L284.55 363.8 L284.80 363.8 L285.05 364.3 L285.30 363.9 L285.55 364.3 L285.80 363.5 L286.05 363.3 L286.30 362.7 L286.55 363.0 L286.80 364.1 L287.05 363.9 L287.30 364.2 L287.55 363.4 L287.80 362.4 L288.05 363.2 L288.30 364.8 L288.55 364.2 L288.80 364.2 L289.05 363.2 L289.30 363.5 L289.55 363.3 L289.80 362.4 L290.05 363.9 L290.30 363.9 L290.55 362.2 L290.80 363.1 L291.05 363.8 L291.30 364.5 L291.55 364.2 L291.80 364.7 L292.05 363.2 L292.30 363.2 L292.55 362.6 L292.80 363.3 L293.05 363.6 L293.30 363.6 L293.55 362.0 L293.80 364.1 L294.05 363.0 L294.30 363.1 L294.55 362.7 L294.80 363.3 L295.05 362.8 L295.30 362.6 L295.55 363.1 L295.80 363.3 L296.05 363.1 L296.30 363.5 L296.55 363.1 L296.80 363.1 L297.05 362.8 L297.30 362.1 L297.55 362.1 L297.80 363.1 L298.05 362.5 L298.30 362.7 L298.55 362.4 L298.80 362.8 L299.05 362.6 L299.30 363.0 L299.55 363.2 L299.80 362.2 L300.05 362.0 L300.30 362.3 L300.55 362.5 L300.80 362.5 L301.05 362.9 L301.30 363.2 L301.55 361.9 L301.80 363.1 L302.00 362.6 L302.00 349.0 L302.10 362.6 L302.05 362.6 L302.30 362.0 L302.55 363.1 L302.80 362.4 L303.05 362.8 L303.30 363.2 L303.55 362.0 L303.80 362.0 L304.05 357.9 L304.30 363.6 L304.55 362.0 L304.80 362.6 L305.00 362.5 L305.00 347.0 L305.10 362.5 L305.05 362.9 L305.30 364.3 L305.55 362.7 L305.80 363.2 L306.05 362.0 L306.30 352.1 L306.55 362.7 L306.80 361.3 L307.00 362.4 L307.00 379.0 L307.10 362.4 L307.05 362.4 L307.30 361.9 L307.40 362.4 L307.40 353.0 L307.50 362.4 L307.55 362.3 L307.80 362.5 L308.05 366.0 L308.30 354.0 L308.55 363.3 L308.80 361.6 L309.00 362.3 L309.00 352.0 L309.10 362.3 L309.05 361.7 L309.30 362.5 L309.55 362.9 L309.80 361.7 L310.05 362.5 L310.30 357.6 L310.55 362.7 L310.60 362.3 L310.60 351.0 L310.70 362.3 L310.80 364.2 L311.05 362.4 L311.30 363.7 L311.55 363.5 L311.80 362.6 L312.05 362.0 L312.30 362.2 L312.40 362.2 L312.40 330.0 L312.50 362.2 L312.55 361.8 L312.80 359.0 L313.05 361.1 L313.30 358.4 L313.55 362.5 L313.80 360.6 L314.05 363.3 L314.30 356.5 L314.55 362.0 L314.80 362.5 L315.05 361.6 L315.30 355.8 L315.55 362.2 L315.80 361.7 L316.00 362.2 L316.00 344.4 L316.10 362.2 L316.05 366.3 L316.30 362.7 L316.55 362.8 L316.80 362.1 L317.05 362.1 L317.30 362.9 L317.55 363.0 L317.60 362.2 L317.60 350.0 L317.70 362.2 L317.80 354.6 L318.05 362.7 L318.30 362.7 L318.55 358.7 L318.80 362.9 L319.05 362.9 L319.30 362.5 L319.55 357.1 L319.80 361.8 L320.05 359.1 L320.30 353.9 L320.55 361.3 L320.80 362.6 L321.05 361.9 L321.30 362.9 L321.55 360.3 L321.60 362.1 L321.60 337.4 L321.70 362.1 L321.80 362.8 L322.05 360.2 L322.30 363.6 L322.55 361.8 L322.80 358.0 L323.05 362.9 L323.30 363.4 L323.40 362.2 L323.40 341.0 L323.50 362.2 L323.55 362.8 L323.80 357.1 L324.05 362.3 L324.30 362.5 L324.55 362.6 L324.80 352.8 L325.00 362.2 L325.00 347.0 L325.10 362.2 L325.05 362.0 L325.30 358.6 L325.55 362.5 L325.80 362.6 L326.05 362.3 L326.30 359.2 L326.55 361.9 L326.80 342.2 L327.05 363.2 L327.30 348.0 L327.55 362.7 L327.60 362.2 L327.60 331.4 L327.70 362.2 L327.80 360.4 L328.05 363.1 L328.30 362.1 L328.55 361.8 L328.80 361.7 L329.05 356.9 L329.30 362.8 L329.40 362.3 L329.40 348.0 L329.50 362.3 L329.55 359.4 L329.80 364.0 L330.05 360.2 L330.30 362.2 L330.55 362.6 L330.80 363.3 L331.00 362.3 L331.00 338.0 L331.10 362.3 L331.05 361.4 L331.30 362.2 L331.55 362.7 L331.80 361.6 L332.05 361.4 L332.20 362.3 L332.20 375.0 L332.30 362.3 L332.30 358.8 L332.55 362.3 L332.80 362.0 L333.05 362.3 L333.30 361.8 L333.55 362.2 L333.80 362.4 L333.80 348.0 L333.90 362.4 L333.80 362.5 L334.05 361.2 L334.30 364.5 L334.55 363.8 L334.80 357.5 L335.05 362.5 L335.30 362.9 L335.55 362.5 L335.60 362.5 L335.60 304.4 L335.70 362.5 L335.80 361.8 L336.05 362.3 L336.30 362.9 L336.55 362.9 L336.80 362.7 L337.05 363.0 L337.30 363.7 L337.40 362.5 L337.40 352.0 L337.50 362.5 L337.55 362.0 L337.80 363.1 L338.05 362.5 L338.30 361.4 L338.55 362.5 L338.80 362.5 L339.05 362.4 L339.30 362.2 L339.40 362.6 L339.40 331.6 L339.50 362.6 L339.55 362.0 L339.80 364.2 L340.05 363.5 L340.30 362.1 L340.55 362.8 L340.80 362.8 L341.05 361.8 L341.30 356.5 L341.55 363.4 L341.80 361.9 L342.05 361.4 L342.30 364.0 L342.40 362.8 L342.40 348.0 L342.50 362.8 L342.55 363.1 L342.80 362.8 L343.05 364.6 L343.30 362.1 L343.55 362.7 L343.80 363.0 L344.05 364.6 L344.30 362.3 L344.55 357.1 L344.80 362.1 L345.00 363.0 L345.00 352.0 L345.10 363.0 L345.05 362.4 L345.30 363.4 L345.55 363.7 L345.80 362.9 L346.05 364.0 L346.30 363.2 L346.55 359.6 L346.80 363.7 L347.00 363.1 L347.00 340.0 L347.10 363.1 L347.05 363.9 L347.30 362.7 L347.55 363.1 L347.80 362.6 L348.05 356.1 L348.30 356.4 L348.55 363.4 L348.60 363.2 L348.60 297.6 L348.70 363.2 L348.80 364.1 L349.05 363.2 L349.30 364.9 L349.55 363.4 L349.80 362.6 L350.05 363.1 L350.30 363.3 L350.55 362.9 L350.80 363.3 L351.00 363.4 L351.00 339.0 L351.10 363.4 L351.05 364.2 L351.30 362.8 L351.55 362.5 L351.80 363.6 L352.05 358.0 L352.30 364.0 L352.55 363.9 L352.80 364.2 L353.00 363.5 L353.00 312.0 L353.10 363.5 L353.05 362.8 L353.30 347.8 L353.55 353.0 L353.80 362.3 L354.05 362.9 L354.30 364.4 L354.55 363.1 L354.60 363.7 L354.60 352.0 L354.70 363.7 L354.80 360.4 L355.05 364.6 L355.30 363.7 L355.55 363.7 L355.80 364.1 L356.05 363.8 L356.30 362.0 L356.55 364.5 L356.80 364.1 L357.00 363.9 L357.00 349.0 L357.10 363.9 L357.05 363.6 L357.30 363.5 L357.55 363.5 L357.80 359.4 L358.05 364.2 L358.30 364.9 L358.55 364.3 L358.80 364.3 L359.05 363.5 L359.30 358.8 L359.55 362.5 L359.80 364.6 L360.05 356.5 L360.30 358.8 L360.40 364.2 L360.40 335.6 L360.50 364.2 L360.55 365.4 L360.80 367.2 L361.05 364.4 L361.30 365.8 L361.55 365.3 L361.80 364.5 L362.05 364.9 L362.30 364.9 L362.55 364.9 L362.80 365.3 L363.00 364.4 L363.00 356.0 L363.10 364.4 L363.05 364.3 L363.30 363.8 L363.55 364.8 L363.80 364.0 L364.05 363.6 L364.30 364.5 L364.55 364.7 L364.80 362.5 L365.05 364.3 L365.30 364.9 L365.55 364.6 L365.80 365.7 L366.00 364.7 L366.00 336.4 L366.10 364.7 L366.05 364.6 L366.30 365.2 L366.55 365.2 L366.80 359.5 L367.05 364.9 L367.30 360.4 L367.55 363.8 L367.80 365.8 L368.05 361.9 L368.30 365.6 L368.55 364.3 L368.80 365.4 L369.00 365.0 L369.00 359.0 L369.10 365.0 L369.05 349.2 L369.30 365.2 L369.55 359.5 L369.80 365.6 L370.05 366.3 L370.30 365.8 L370.55 365.0 L370.80 365.8 L371.05 365.0 L371.30 365.4 L371.55 365.2 L371.80 357.7 L372.00 365.3 L372.00 353.6 L372.10 365.3 L372.05 364.7 L372.30 360.4 L372.55 366.1 L372.80 364.6 L373.05 365.1 L373.30 365.2 L373.55 346.3 L373.80 365.6 L374.05 365.1 L374.30 364.6 L374.55 365.6 L374.80 366.7 L375.05 366.0 L375.30 366.4 L375.55 365.6 L375.80 366.4 L376.05 365.0 L376.30 365.4 L376.55 364.6 L376.80 366.0 L377.05 365.9 L377.30 366.1 L377.55 365.2 L377.80 366.5 L378.05 365.5 L378.30 366.2 L378.55 365.6 L378.80 365.9 L379.05 366.5 L379.30 366.3 L379.55 367.1 L379.80 366.7 L380.05 366.5 L380.30 365.6 L380.55 366.4 L380.80 366.1 L381.05 366.4 L381.30 367.0 L381.55 366.0 L381.80 365.2 L382.05 366.0 L382.30 365.7 L382.55 366.1 L382.80 365.9 L383.05 365.3 L383.30 367.4 L383.55 366.9 L383.80 367.4 L384.05 366.5 L384.30 366.8 L384.55 367.0 L384.80 366.4 L385.05 365.6 L385.30 365.9 L385.55 365.7 L385.80 366.7 L386.05 366.5 L386.30 365.9 L386.55 366.2 L386.80 366.3 L387.05 367.0 L387.30 367.1 L387.55 367.3 L387.80 366.2 L388.05 367.4 L388.30 366.9 L388.55 366.8 L388.80 367.1 L389.05 367.2 L389.30 366.8 L389.55 367.5 L389.80 367.0 L390.05 366.4 L390.30 367.5 L390.55 366.5 L390.80 366.5 L391.05 366.2 L391.30 367.7 L391.55 366.3 L391.80 366.7 L392.05 366.5 L392.30 366.8 L392.55 367.4 L392.80 366.8 L393.05 367.3 L393.30 367.7 L393.55 367.8 L393.80 367.7 L394.05 367.6 L394.30 368.4 L394.55 367.3 L394.80 368.4 L395.05 367.2 L395.30 366.8 L395.55 366.9 L395.80 366.7 L396.05 366.8 L396.30 366.3 L396.55 367.8 L396.80 368.2 L397.05 367.8 L397.30 368.3 L397.55 367.0 L397.80 369.2 L398.05 367.8 L398.30 367.3 L398.55 367.5 L398.80 367.4 L399.05 368.5 L399.30 368.2 L399.55 368.0 L399.80 367.7 L400.05 367.7 L400.30 367.2 L400.55 368.7 L400.80 367.9 L401.05 366.8 L401.30 367.3 L401.55 368.0 L401.80 367.6 L402.05 368.3 L402.30 367.4 L402.55 368.5 L402.80 367.7 L403.05 368.1 L403.30 368.7 L403.55 368.1 L403.80 368.3 L404.05 368.7 L404.30 368.2 L404.55 368.8 L404.80 367.7 L405.05 368.1 L405.30 367.8 L405.55 368.0 L405.80 368.2 L406.05 369.2 L406.30 368.6 L406.55 368.4 L406.80 368.8 L407.05 368.5 L407.30 368.7 L407.55 368.8 L407.80 369.0 L408.05 368.8 L408.30 369.2 L408.55 368.0 L408.80 368.4 L409.05 368.3 L409.30 368.2 L409.55 368.9 L409.80 368.0 L410.05 369.7 L410.30 369.0 L410.55 368.7 L410.80 367.8 L411.05 368.1 L411.30 368.3 L411.55 368.3 L411.80 369.1 L412.05 368.9 L412.30 369.2 L412.55 368.8 L412.80 369.5 L413.05 369.0 L413.30 369.1 L413.55 369.8 L413.80 363.3 L414.05 369.4 L414.30 369.7 L414.55 370.6 L414.80 368.4 L415.05 368.9 L415.30 369.3 L415.55 368.7 L415.80 374.5 L416.05 370.0 L416.30 369.6 L416.55 380.3 L416.60 369.0 L416.60 411.6 L416.70 369.0 L416.80 370.8 L417.05 368.7 L417.30 369.7 L417.55 368.6 L417.80 367.1 L418.05 369.4 L418.30 368.3 L418.55 369.6 L418.80 369.1 L419.00 369.1 L419.00 378.0 L419.10 369.1 L419.05 384.0 L419.30 377.2 L419.55 370.0 L419.80 369.2 L420.05 370.3 L420.30 368.9 L420.55 370.3 L420.80 368.1 L421.05 368.2 L421.30 369.0 L421.40 369.2 L421.40 387.0 L421.50 369.2 L421.55 368.6 L421.80 369.4 L422.05 369.8 L422.30 373.5 L422.55 369.8 L422.80 368.9 L423.00 369.2 L423.00 380.0 L423.10 369.2 L423.05 370.4 L423.30 369.0 L423.55 369.8 L423.80 369.9 L424.05 369.8 L424.30 369.5 L424.55 374.8 L424.80 369.6 L425.05 369.0 L425.30 369.1 L425.40 369.3 L425.40 400.0 L425.50 369.3 L425.55 368.1 L425.80 368.6 L426.05 369.5 L426.30 381.9 L426.55 369.3 L426.80 372.8 L427.00 369.3 L427.00 384.0 L427.10 369.3 L427.05 368.8 L427.30 370.3 L427.55 372.6 L427.80 370.7 L428.05 368.8 L428.30 370.2 L428.55 369.5 L428.80 368.3 L429.00 369.3 L429.00 387.0 L429.10 369.3 L429.05 369.0 L429.30 367.9 L429.55 383.2 L429.80 369.1 L430.05 371.7 L430.30 369.4 L430.55 370.2 L430.80 370.8 L431.05 368.6 L431.30 368.5 L431.55 373.3 L431.80 368.9 L432.00 369.4 L432.00 404.4 L432.10 369.4 L432.05 370.3 L432.30 370.5 L432.55 370.1 L432.80 370.5 L433.05 368.3 L433.30 369.2 L433.55 368.9 L433.80 370.5 L434.00 369.3 L434.00 388.0 L434.10 369.3 L434.05 368.4 L434.30 368.9 L434.55 376.2 L434.80 370.1 L435.05 369.2 L435.30 368.7 L435.55 369.7 L435.80 368.3 L436.05 369.1 L436.30 369.3 L436.55 369.1 L436.60 369.3 L436.60 396.0 L436.70 369.3 L436.80 369.2 L437.05 369.6 L437.30 369.7 L437.55 370.2 L437.80 370.1 L438.05 368.6 L438.30 370.1 L438.55 368.4 L438.60 369.3 L438.60 387.0 L438.70 369.3 L438.80 370.4 L439.05 369.3 L439.30 369.4 L439.55 373.0 L439.80 369.2 L440.05 369.9 L440.30 375.2 L440.55 370.2 L440.60 369.2 L440.60 394.0 L440.70 369.2 L440.80 369.3 L441.05 369.0 L441.30 369.2 L441.55 369.0 L441.80 369.3 L442.05 373.7 L442.30 371.5 L442.40 369.2 L442.40 397.0 L442.50 369.2 L442.55 368.8 L442.80 369.2 L443.05 368.9 L443.30 369.5 L443.55 368.5 L443.80 375.4 L444.05 372.8 L444.30 369.3 L444.55 369.0 L444.60 369.1 L444.60 384.0 L444.70 369.1 L444.80 369.9 L445.05 369.2 L445.30 367.4 L445.55 371.8 L445.80 369.4 L446.05 372.1 L446.30 369.1 L446.55 368.7 L446.80 369.1 L447.00 369.0 L447.00 382.0 L447.10 369.0 L447.05 369.4 L447.30 369.0 L447.55 370.0 L447.80 367.8 L448.05 368.9 L448.30 368.5 L448.55 369.1 L448.80 369.7 L449.05 368.4 L449.30 368.4 L449.55 368.1 L449.80 370.5 L450.00 368.9 L450.00 400.4 L450.10 368.9 L450.05 368.7 L450.30 379.1 L450.55 368.4 L450.80 368.2 L451.05 368.9 L451.30 368.8 L451.55 365.5 L451.80 378.2 L452.05 368.7 L452.30 369.6 L452.55 369.6 L452.60 368.7 L452.60 409.0 L452.70 368.7 L452.80 372.1 L453.05 370.0 L453.30 369.4 L453.55 366.2 L453.80 368.1 L454.05 368.4 L454.30 369.2 L454.55 369.3 L454.60 368.6 L454.60 390.0 L454.70 368.6 L454.80 368.2 L455.05 368.4 L455.30 368.0 L455.55 369.3 L455.80 368.4 L456.05 368.5 L456.30 367.8 L456.40 368.5 L456.40 384.0 L456.50 368.5 L456.55 368.9 L456.80 368.5 L457.05 375.9 L457.30 374.8 L457.55 367.8 L457.80 367.3 L458.05 368.4 L458.30 369.5 L458.55 368.9 L458.60 368.4 L458.60 393.0 L458.70 368.4 L458.80 365.2 L459.05 368.3 L459.30 367.7 L459.55 383.9 L459.80 374.5 L460.05 368.4 L460.30 367.8 L460.55 371.9 L460.80 367.6 L461.00 368.2 L461.00 382.0 L461.10 368.2 L461.05 373.4 L461.30 368.7 L461.55 368.6 L461.80 367.3 L462.05 368.6 L462.30 367.2 L462.55 367.9 L462.80 367.5 L463.05 368.3 L463.30 368.1 L463.55 367.8 L463.60 368.0 L463.60 360.0 L463.70 368.0 L463.80 367.9 L464.00 368.0 L464.00 380.0 L464.10 368.0 L464.05 369.0 L464.30 368.0 L464.55 367.9 L464.80 367.8 L465.05 368.9 L465.30 367.6 L465.55 368.3 L465.80 367.4 L466.00 367.8 L466.00 390.0 L466.10 367.8 L466.05 367.2 L466.30 367.0 L466.55 368.2 L466.80 367.6 L467.05 367.8 L467.30 368.5 L467.55 367.3 L467.80 367.6 L468.00 367.6 L468.00 380.0 L468.10 367.6 L468.05 367.5 L468.30 368.1 L468.55 368.2 L468.80 369.3 L469.05 368.0 L469.30 369.0 L469.55 367.4 L469.80 367.1 L470.05 367.2 L470.30 366.3 L470.55 374.3 L470.80 367.2 L471.00 367.4 L471.00 384.0 L471.10 367.4 L471.05 365.8 L471.30 367.0 L471.55 367.5 L471.80 367.1 L472.05 367.1 L472.30 375.5 L472.55 381.3 L472.80 374.5 L473.05 366.5 L473.30 367.4 L473.55 367.2 L473.80 368.1 L474.00 367.1 L474.00 373.0 L474.10 367.1 L474.05 367.5 L474.30 365.5 L474.55 367.5 L474.80 369.1 L475.05 366.9 L475.30 367.6 L475.55 366.5 L475.80 366.4 L476.05 366.2 L476.30 366.9 L476.55 367.6 L476.80 366.1 L477.00 366.8 L477.00 375.0 L477.10 366.8 L477.05 367.0 L477.30 366.4 L477.55 365.4 L477.80 366.9 L478.05 384.3 L478.30 371.6 L478.55 365.4 L478.80 366.7 L479.05 367.3 L479.30 365.9 L479.55 365.7 L479.80 366.2 L480.00 366.5 L480.00 401.6 L480.10 366.5 L480.05 366.7 L480.30 366.4 L480.55 372.3 L480.80 367.6 L481.05 379.9 L481.30 366.3 L481.55 365.7 L481.80 366.6 L482.05 366.6 L482.30 366.0 L482.55 364.8 L482.80 373.3 L483.05 370.2 L483.30 366.2 L483.55 365.5 L483.80 367.0 L484.05 366.4 L484.30 365.8 L484.55 365.7 L484.80 364.9 L485.05 365.0" fill="none" stroke="#D95319" stroke-width="0.9" stroke-linejoin="round"/>
<g stroke="#7a7a7a" stroke-width="1" fill="none">
<path d="M40.3 257.6V473.9H485.1"/>
<path d="M40.3 257.6H485.1" stroke="#858585"/>
<path d="M40.3 473.9v-4.2 M40.3 257.6v4.2 M95.9 473.9v-4.2 M95.9 257.6v4.2 M151.5 473.9v-4.2 M151.5 257.6v4.2 M207.1 473.9v-4.2 M207.1 257.6v4.2 M262.7 473.9v-4.2 M262.7 257.6v4.2 M318.3 473.9v-4.2 M318.3 257.6v4.2 M373.9 473.9v-4.2 M373.9 257.6v4.2 M429.5 473.9v-4.2 M429.5 257.6v4.2 M485.1 473.9v-4.2 M485.1 257.6v4.2 M40.3 467.1h4.2 M40.3 433.3h4.2 M40.3 399.5h4.2 M40.3 365.8h4.2 M40.3 332.0h4.2 M40.3 298.2h4.2 M40.3 264.4h4.2"/>
</g>
<g stroke="#D95319" stroke-width="0.9" fill="none">
<path d="M485.1 257.6V473.9 M485.1 473.9h-4.2 M485.1 437.8h-4.2 M485.1 401.8h-4.2 M485.1 365.8h-4.2 M485.1 329.7h-4.2 M485.1 293.7h-4.2 M485.1 257.6h-4.2"/>
</g>
<g font-family="'Liberation Sans', sans-serif" font-size="11.6" fill="#262626" stroke="#262626" stroke-width="0.22">
<text transform="translate(40.3 490.5) scale(1 1.06)" text-anchor="middle">0</text>
<text transform="translate(95.9 490.5) scale(1 1.06)" text-anchor="middle">50</text>
<text transform="translate(151.5 490.5) scale(1 1.06)" text-anchor="middle">100</text>
<text transform="translate(207.1 490.5) scale(1 1.06)" text-anchor="middle">150</text>
<text transform="translate(262.7 490.5) scale(1 1.06)" text-anchor="middle">200</text>
<text transform="translate(318.3 490.5) scale(1 1.06)" text-anchor="middle">250</text>
<text transform="translate(373.9 490.5) scale(1 1.06)" text-anchor="middle">300</text>
<text transform="translate(429.5 490.5) scale(1 1.06)" text-anchor="middle">350</text>
<text transform="translate(485.1 490.5) scale(1 1.06)" text-anchor="middle">400</text>
<text transform="translate(36.2 472.0) scale(1 1.06)" text-anchor="end">−15</text>
<text transform="translate(36.2 438.2) scale(1 1.06)" text-anchor="end">−10</text>
<text transform="translate(36.2 404.4) scale(1 1.06)" text-anchor="end">−5</text>
<text transform="translate(36.2 370.6) scale(1 1.06)" text-anchor="end">0</text>
<text transform="translate(36.2 336.9) scale(1 1.06)" text-anchor="end">5</text>
<text transform="translate(36.2 303.1) scale(1 1.06)" text-anchor="end">10</text>
<text transform="translate(36.2 269.3) scale(1 1.06)" text-anchor="end">15</text>
</g>
<g font-family="'Liberation Sans', sans-serif" font-size="11.5" fill="#D95319" stroke="#D95319" stroke-width="0.22">
<text transform="translate(487.4 478.8) scale(1 1.08)">−30</text>
<text transform="translate(487.4 442.7) scale(1 1.08)">−20</text>
<text transform="translate(487.4 406.7) scale(1 1.08)">−10</text>
<text transform="translate(489.2 370.6) scale(1 1.08)">0</text>
<text transform="translate(489.2 334.6) scale(1 1.08)">10</text>
<text transform="translate(489.2 298.6) scale(1 1.08)">20</text>
<text transform="translate(489.2 262.5) scale(1 1.08)">30</text>
</g>
<g font-family="'Liberation Sans', sans-serif" font-size="12.8" stroke-width="0.22">
<text transform="translate(262.5 506.3) scale(1 1.04)" text-anchor="middle" fill="#262626" stroke="#262626">Time [<tspan font-family="'Liberation Serif', serif" font-style="italic" font-size="14.5" dx="1.2">μ</tspan><tspan dx="1.2">s]</tspan></text>
<text transform="translate(14.2 366.7) rotate(-90)" text-anchor="middle" fill="#262626" stroke="#262626">Voltage [kV]</text>
<text transform="translate(521.3 365.2) rotate(-90)" text-anchor="middle" fill="#D95319" stroke="#D95319">Current [mA]</text>
</g>
<rect x="421" y="262" width="59.8" height="29.1" fill="#fff" stroke="#5a5a5a" stroke-width="0.8"/>
<path d="M423 269.8H440.8" stroke="#222" stroke-width="1" stroke-dasharray="3.4 1.7" fill="none"/>
<path d="M423 283.6H440.8" stroke="#D95319" stroke-width="1" fill="none"/>
<g font-family="'Liberation Sans', sans-serif" font-size="10.7" fill="#111">
<text transform="translate(442 273.8) scale(1 1.05)">Voltage</text><text transform="translate(442 287.5) scale(1 1.05)">Current</text></g>
<g fill="#4472c4" fill-opacity="0.35">
<rect x="79" y="266.8" width="76" height="200.3"/>
<rect x="191" y="266.8" width="76.5" height="200.3"/>
<rect x="299.6" y="266.8" width="76.6" height="200.3"/>
<rect x="412.2" y="294" width="71.1" height="175"/>
</g>
<g font-family="'Liberation Sans', sans-serif" font-size="12.3" fill="#fff" fill-opacity="0.88">
<text transform="translate(85.6 461.3) scale(1 1.05)" textLength="62.7" lengthAdjust="spacingAndGlyphs">Plasma ON</text>
<text transform="translate(197.4 461.3) scale(1 1.05)" textLength="62.7" lengthAdjust="spacingAndGlyphs">Plasma ON</text>
<text transform="translate(306.5 461.3) scale(1 1.05)" textLength="62.7" lengthAdjust="spacingAndGlyphs">Plasma ON</text>
<text transform="translate(416.5 461.3) scale(1 1.05)" textLength="62.7" lengthAdjust="spacingAndGlyphs">Plasma ON</text>
</g>
</g>
</svg>
</body></html>
